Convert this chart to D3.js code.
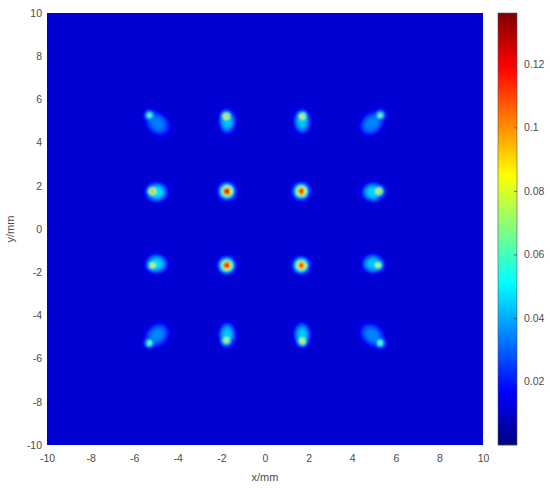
<!DOCTYPE html>
<html>
<head>
<meta charset="utf-8">
<script src="https://cdn.jsdelivr.net/npm/d3@7/dist/d3.min.js"></script>
<style>
  body { margin: 0; background: #fff; }
  svg { display: block; }
  text { font-family: "Liberation Sans", Arial, sans-serif; fill: #4a4a4a; }
</style>
</head>
<body>
<svg id="chart" width="550" height="489"></svg>
<script>
// ---- data (mm / intensity), spots row by row, top row first ----
const xTickValues = [-10, -8, -6, -4, -2, 0, 2, 4, 6, 8, 10];
const yTickValues = [-10, -8, -6, -4, -2, 0, 2, 4, 6, 8, 10];
const cbarTickValues = [0.02, 0.04, 0.06, 0.08, 0.1, 0.12];
const cbarDomain = [0, 0.136];
const background = 0.011;

// bright core of every spot
const coreX = [-5.28, -1.76, 1.73, 5.30,  -5.15, -1.73, 1.68, 5.24,  -5.14, -1.74, 1.68, 5.20,  -5.28, -1.76, 1.73, 5.30];
const coreY = [ 5.28,  5.23, 5.23, 5.28,   1.76,  1.76, 1.76, 1.76,  -1.67, -1.67, -1.67, -1.67, -5.26, -5.14, -5.17, -5.26];
const corePeak = [0.072, 0.102, 0.097, 0.076,  0.110, 0.134, 0.126, 0.100,  0.094, 0.130, 0.122, 0.086,  0.074, 0.092, 0.096, 0.074];
const coreSigma = [0.12, 0.13, 0.13, 0.12,  0.13, 0.18, 0.18, 0.13,  0.13, 0.18, 0.18, 0.13,  0.12, 0.13, 0.13, 0.12];

// dimmer, flat-topped halo next to the core (pointing to the centre of the pattern)
const haloX = [-4.92, -1.72, 1.72, 4.92,  -4.96, -1.73, 1.68, 4.97,  -4.96, -1.74, 1.68, 4.97,  -4.94, -1.72, 1.72, 4.94];
const haloY = [ 4.90,  5.00, 5.00, 4.90,   1.72,  1.76, 1.76, 1.72,  -1.60, -1.67, -1.67, -1.60, -4.90, -4.88, -4.88, -4.90];
const haloValue = [0.034, 0.044, 0.044, 0.035,  0.048, 0.011, 0.011, 0.046,  0.046, 0.011, 0.011, 0.044,  0.035, 0.044, 0.044, 0.035];
const haloA = [0.48, 0.28, 0.28, 0.48,  0.38, 0.1, 0.1, 0.38,  0.38, 0.1, 0.1, 0.38,  0.48, 0.28, 0.28, 0.48];
const haloB = [0.36, 0.42, 0.42, 0.36,  0.33, 0.1, 0.1, 0.33,  0.33, 0.1, 0.1, 0.33,  0.36, 0.42, 0.42, 0.36];
const haloAngle = [-45, 0, 0, 45,  0, 0, 0, 0,  0, 0, 0, 0,  45, 0, 0, -45];

// ---- layout ----
const plot = { left: 47, right: 483, top: 13, bottom: 445 };
const cbar = { left: 498, right: 517 };

const svg = d3.select("#chart");
const x = d3.scaleLinear().domain([-10, 10]).range([plot.left, plot.right]);
const y = d3.scaleLinear().domain([-10, 10]).range([plot.bottom, plot.top]);

// MATLAB jet colormap
function jet(t) {
  const c = v => Math.max(0, Math.min(1, v));
  const r = c(Math.min(4 * t - 1.5, -4 * t + 4.5));
  const g = c(Math.min(4 * t - 0.5, -4 * t + 3.5));
  const b = c(Math.min(4 * t + 0.5, -4 * t + 2.5));
  return d3.rgb(r * 255, g * 255, b * 255).toString();
}
const color = d3.scaleSequential(jet).domain(cbarDomain).clamp(true);

function intensity(px, py) {
  let v = background;
  for (let i = 0; i < coreX.length; i++) {
    let dx = px - coreX[i], dy = py - coreY[i];
    const c = background + (corePeak[i] - background) * Math.exp(-(dx * dx + dy * dy) / (2 * coreSigma[i] * coreSigma[i]));
    const th = haloAngle[i] * Math.PI / 180;
    dx = px - haloX[i]; dy = py - haloY[i];
    const u = (dx * Math.cos(th) + dy * Math.sin(th)) / haloA[i];
    const w = (-dx * Math.sin(th) + dy * Math.cos(th)) / haloB[i];
    const r2 = u * u + w * w;
    const h = background + (haloValue[i] - background) * Math.exp(-0.5 * r2 * r2);
    v = Math.max(v, c, h);
  }
  return v;
}

const defs = svg.append("defs");
defs.append("clipPath").attr("id", "plotClip")
  .append("rect")
  .attr("x", plot.left).attr("y", plot.top)
  .attr("width", plot.right - plot.left).attr("height", plot.bottom - plot.top);
defs.append("filter").attr("id", "soft").attr("x", "-5%").attr("y", "-5%").attr("width", "110%").attr("height", "110%")
  .append("feGaussianBlur").attr("stdDeviation", 0.9);

// background field
svg.append("rect")
  .attr("x", x(-10)).attr("y", y(10))
  .attr("width", x(10) - x(-10)).attr("height", y(-10) - y(10))
  .attr("fill", color(background));

// cells that differ from the background
const step = 0.1;
const cells = [];
d3.range(-10, 10, step).forEach(cx => {
  d3.range(-10, 10, step).forEach(cy => {
    const v = intensity(cx + step / 2, cy + step / 2);
    if (v - background > 0.0015) cells.push({ cx, cy, v });
  });
});

svg.append("g")
  .attr("clip-path", "url(#plotClip)")
  .append("g")
  .attr("filter", "url(#soft)")
  .selectAll("rect")
  .data(cells)
  .join("rect")
  .attr("x", d => x(d.cx) - 0.3)
  .attr("y", d => y(d.cy + step) - 0.3)
  .attr("width", x(step) - x(0) + 0.6)
  .attr("height", y(0) - y(step) + 0.6)
  .attr("fill", d => color(d.v));

// axes (tick labels only; the image covers the box)
const xAxis = svg.append("g")
  .attr("transform", `translate(0,${plot.bottom})`)
  .call(d3.axisBottom(x).tickValues(xTickValues).tickSize(0).tickPadding(10).tickFormat(d => String(d)));
const yAxis = svg.append("g")
  .attr("transform", `translate(${plot.left},0)`)
  .call(d3.axisLeft(y).tickValues(yTickValues).tickSize(0).tickPadding(5).tickFormat(d => String(d)));
[xAxis, yAxis].forEach(a => {
  a.select(".domain").remove();
  a.selectAll("text").attr("font-size", 10.5).attr("fill", "#4a4a4a").attr("font-family", null);
});

svg.append("text")
  .attr("x", x(0)).attr("y", 481)
  .attr("text-anchor", "middle").attr("font-size", 11)
  .text("x/mm");
svg.append("text")
  .attr("transform", `translate(14,${y(0)}) rotate(-90)`)
  .attr("text-anchor", "middle").attr("font-size", 11)
  .text("y/mm");

// colorbar
const cy = d3.scaleLinear().domain(cbarDomain).range([plot.bottom, plot.top]);
const cbarSteps = d3.range(0, plot.bottom - plot.top);
svg.append("g")
  .selectAll("rect")
  .data(cbarSteps)
  .join("rect")
  .attr("x", cbar.left)
  .attr("y", d => plot.top + d)
  .attr("width", cbar.right - cbar.left)
  .attr("height", 1.2)
  .attr("fill", d => color(cy.invert(plot.top + d + 0.5)));
svg.append("rect")
  .attr("x", cbar.left).attr("y", plot.top)
  .attr("width", cbar.right - cbar.left).attr("height", plot.bottom - plot.top)
  .attr("fill", "none").attr("stroke", "#555").attr("stroke-width", 0.6);

const cAxis = svg.append("g")
  .attr("transform", `translate(${cbar.right},0)`)
  .call(d3.axisRight(cy).tickValues(cbarTickValues).tickSize(-3).tickPadding(7).tickFormat(d => String(d)));
cAxis.select(".domain").remove();
cAxis.selectAll("line").attr("stroke", "#444").attr("stroke-width", 0.7);
cAxis.selectAll("text").attr("font-size", 10.5).attr("fill", "#4a4a4a").attr("font-family", null);
</script>
</body>
</html>
